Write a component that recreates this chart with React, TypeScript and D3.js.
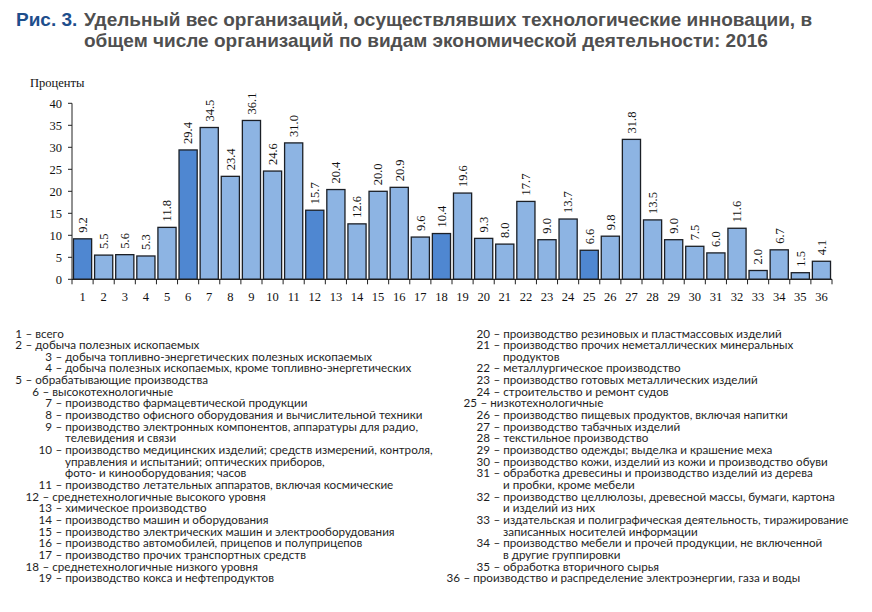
import React from "react";
import * as d3 from "d3";

const categories: string[] = [
  "1","2","3","4","5","6","7","8","9","10","11","12","13","14","15","16","17","18",
  "19","20","21","22","23","24","25","26","27","28","29","30","31","32","33","34","35","36",
];
const values: number[] = [
  9.2, 5.5, 5.6, 5.3, 11.8, 29.4, 34.5, 23.4, 36.1, 24.6, 31.0, 15.7, 20.4, 12.6, 20.0, 20.9, 9.6, 10.4,
  19.6, 9.3, 8.0, 17.7, 9.0, 13.7, 6.6, 9.8, 31.8, 13.5, 9.0, 7.5, 6.0, 11.6, 2.0, 6.7, 1.5, 4.1,
];
const highlighted: string[] = ["1", "6", "12", "18", "25"];
const yTicks: number[] = [0, 5, 10, 15, 20, 25, 30, 35, 40];

const titlePrefix = "Рис. 3.";
const titleLines: string[] = [
  "Удельный вес организаций, осуществлявших технологические инновации, в",
  "общем числе организаций по видам экономической деятельности: 2016",
];
const yAxisTitle = "Проценты";

// level: 0 = top, 1 = group, 2 = sub-item
const legendLeft: { n: string; level: number; lines: string[] }[] = [
  { n: "1", level: 0, lines: ["всего"] },
  { n: "2", level: 0, lines: ["добыча полезных ископаемых"] },
  { n: "3", level: 2, lines: ["добыча топливно-энергетических полезных ископаемых"] },
  { n: "4", level: 2, lines: ["добыча полезных ископаемых, кроме топливно-энергетических"] },
  { n: "5", level: 0, lines: ["обрабатывающие производства"] },
  { n: "6", level: 1, lines: ["высокотехнологичные"] },
  { n: "7", level: 2, lines: ["производство фармацевтической продукции"] },
  { n: "8", level: 2, lines: ["производство офисного оборудования и вычислительной техники"] },
  { n: "9", level: 2, lines: ["производство электронных компонентов, аппаратуры для радио,", "телевидения и связи"] },
  { n: "10", level: 2, lines: ["производство медицинских изделий; средств измерений, контроля,", "управления и испытаний; оптических приборов,", "фото- и кинооборудования; часов"] },
  { n: "11", level: 2, lines: ["производство летательных аппаратов, включая космические"] },
  { n: "12", level: 1, lines: ["среднетехнологичные высокого уровня"] },
  { n: "13", level: 2, lines: ["химическое производство"] },
  { n: "14", level: 2, lines: ["производство машин и оборудования"] },
  { n: "15", level: 2, lines: ["производство электрических машин и электрооборудования"] },
  { n: "16", level: 2, lines: ["производство автомобилей, прицепов и полуприцепов"] },
  { n: "17", level: 2, lines: ["производство прочих транспортных средств"] },
  { n: "18", level: 1, lines: ["среднетехнологичные низкого уровня"] },
  { n: "19", level: 2, lines: ["производство кокса и нефтепродуктов"] },
];
const legendRight: { n: string; level: number; lines: string[] }[] = [
  { n: "20", level: 2, lines: ["производство резиновых и пластмассовых изделий"] },
  { n: "21", level: 2, lines: ["производство прочих неметаллических минеральных", "продуктов"] },
  { n: "22", level: 2, lines: ["металлургическое производство"] },
  { n: "23", level: 2, lines: ["производство готовых металлических изделий"] },
  { n: "24", level: 2, lines: ["строительство и ремонт судов"] },
  { n: "25", level: 1, lines: ["низкотехнологичные"] },
  { n: "26", level: 2, lines: ["производство пищевых продуктов, включая напитки"] },
  { n: "27", level: 2, lines: ["производство табачных изделий"] },
  { n: "28", level: 2, lines: ["текстильное производство"] },
  { n: "29", level: 2, lines: ["производство одежды; выделка и крашение меха"] },
  { n: "30", level: 2, lines: ["производство кожи, изделий из кожи и производство обуви"] },
  { n: "31", level: 2, lines: ["обработка древесины и производство изделий из дерева", "и пробки, кроме мебели"] },
  { n: "32", level: 2, lines: ["производство целлюлозы, древесной массы, бумаги, картона", "и изделий из них"] },
  { n: "33", level: 2, lines: ["издательская и полиграфическая деятельность, тиражирование", "записанных носителей информации"] },
  { n: "34", level: 2, lines: ["производство мебели и прочей продукции, не включенной", "в другие группировки"] },
  { n: "35", level: 2, lines: ["обработка вторичного сырья"] },
  { n: "36", level: 0, lines: ["производство и распределение электроэнергии, газа и воды"] },
];

const W = 872;
const H = 612;
const plot = { left: 72, right: 832, top: 103.3, bottom: 279.3 };
const serif = "'Liberation Serif', 'Times New Roman', serif";
const sans = "Lato, 'Noto Sans', sans-serif";
const fmt = d3.format(".1f");

function Legend({ items, colX }: { items: { n: string; level: number; lines: string[] }[]; colX: number }) {
  const indent = [0, 17, 30];
  const lh = 11.65;
  const y0 = 337.5;
  let row = 0;
  const out: React.ReactNode[] = [];
  items.forEach((it) => {
    const nr = colX + indent[it.level];
    it.lines.forEach((ln, j) => {
      const y = y0 + row * lh;
      if (j === 0) {
        out.push(
          <text key={it.n + "n"} x={nr} y={y} textAnchor="end">{it.n}</text>,
          <text key={it.n + "t" + j} x={nr + 3.5} y={y}>{"– " + ln}</text>
        );
      } else {
        out.push(<text key={it.n + "t" + j} x={nr + 13} y={y}>{ln}</text>);
      }
      row++;
    });
  });
  return (
    <g fontFamily={sans} fontSize={11.65} fill="#1e1e1e">
      {out}
    </g>
  );
}

export default function App() {
  const x = d3
    .scaleBand<string>()
    .domain(categories)
    .range([plot.left, plot.right])
    .paddingInner(0.14)
    .paddingOuter(0.07);
  const y = d3.scaleLinear().domain([0, 40]).range([plot.bottom, plot.top]);
  const step = x.step();
  const boundaries = d3.range(categories.length + 1).map((i) => plot.left + i * step);

  return (
    <svg width={W} height={H} style={{ position: "absolute", left: 0, top: 0, background: "#fff" }}>
      <rect width={W} height={H} fill="#fff" />
      {/* title */}
      <g fontFamily="'Liberation Sans', Arial, sans-serif" fontWeight="bold" fontSize={19}>
        <text x={16} y={26} fill="#1d4e8c">{titlePrefix}</text>
        <text x={84} y={26} fill="#4f4f4f">{titleLines[0]}</text>
        <text x={84} y={46.5} fill="#4f4f4f">{titleLines[1]}</text>
      </g>

      {/* y axis */}
      <text x={30} y={87} fontFamily={serif} fontSize={12.5} fill="#111">{yAxisTitle}</text>
      <line x1={plot.left} x2={plot.left} y1={y(40)} y2={y(0)} stroke="#222" strokeWidth={1} />
      {yTicks.map((t) => (
        <g key={t}>
          <line x1={plot.left - 4} x2={plot.left} y1={y(t)} y2={y(t)} stroke="#222" strokeWidth={1} />
          <text x={plot.left - 10} y={y(t)} dy="0.35em" textAnchor="end" fontFamily={serif} fontSize={12.5} fill="#111">
            {t}
          </text>
        </g>
      ))}

      {/* bars */}
      {categories.map((c, i) => {
        const v = values[i];
        const bx = x(c) as number;
        const top = y(v);
        const cx = bx + x.bandwidth() / 2;
        return (
          <g key={c}>
            <rect
              x={bx}
              y={top}
              width={x.bandwidth()}
              height={y(0) - top}
              fill={highlighted.includes(c) ? "#4f87d1" : "#8db4e3"}
              stroke="#1b1f26"
              strokeWidth={1.3}
            />
            <text
              transform={`translate(${cx},${top - 6}) rotate(-90)`}
              dy="0.35em"
              fontFamily={serif}
              fontSize={12.5}
              fill="#111"
            >
              {fmt(v)}
            </text>
            <text x={cx} y={301} textAnchor="middle" fontFamily={serif} fontSize={12.5} fill="#111">
              {c}
            </text>
          </g>
        );
      })}

      {/* x axis */}
      <line x1={plot.left} x2={plot.right} y1={y(0)} y2={y(0)} stroke="#222" strokeWidth={1.2} />
      {boundaries.map((bx, i) => (
        <line key={i} x1={bx} x2={bx} y1={y(0)} y2={y(0) + 5} stroke="#222" strokeWidth={1} />
      ))}

      <Legend items={legendLeft} colX={22} />
      <Legend items={legendRight} colX={460} />
    </svg>
  );
}
